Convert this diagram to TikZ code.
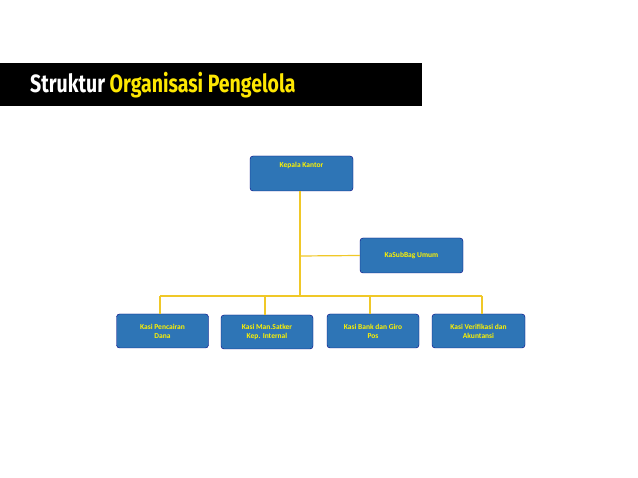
\documentclass[tikz,border=0pt]{standalone}
\usepackage{fontspec}
\setmainfont{Carlito}
\newfontfamily\titlefont{Fira Sans}
\begin{document}
\begin{tikzpicture}[x=1pt,y=-1pt,
  box/.style={draw=blue!50!black,fill={rgb,255:red,46;green,117;blue,182},rounded corners=3pt,
    minimum width=92pt,minimum height=34pt,text=yellow,font=\bfseries\fontsize{7.5}{9}\selectfont,align=center,inner sep=1pt},
  conn/.style={draw={rgb,255:red,240;green,200;blue,40},line width=1.2pt}]
\useasboundingbox (0,0) rectangle (638,478);
\fill[white] (0,0) rectangle (638,478);
\fill[black] (0,63) rectangle (422,106);
\node[anchor=west,inner sep=0] (title) at (30,85) {\scalebox{0.78}[1]{\titlefont\bfseries\fontsize{25}{28}\selectfont\color{white}Struktur \color{yellow!90!orange}Organisasi Pengelola}};
\node[box,minimum width=103pt,minimum height=35pt] (kk) at (301.5,173.5) {Kepala Kantor\\[8pt]};
\node[box,minimum width=103pt,minimum height=35pt] (ks) at (411.5,255.5) {KaSubBag Umum};
\node[box] (b1) at (162.5,331) {Kasi Pencairan\\Dana};
\node[box] (b2) at (267,332) {Kasi Man.Satker\\Kep. Internal};
\node[box] (b3) at (373,331) {Kasi Bank dan Giro\\Pos};
\node[box,minimum width=93pt] (b4) at (478.5,331) {Kasi Verifikasi dan\\Akuntansi};
\coordinate (j) at (300,296);
\coordinate (js) at (300,256);
\draw[conn] (kk.south -| j) -- (j);
\draw[conn] (js) -- (ks.west);
\draw[conn] (160,296) coordinate (l) -- (482,296) coordinate (r);
\draw[conn] (l) -- (l |- b1.north);
\draw[conn] (265,296) coordinate (m2) -- (m2 |- b2.north);
\draw[conn] (370,296) coordinate (m3) -- (m3 |- b3.north);
\draw[conn] (r) -- (r |- b4.north);
\end{tikzpicture}
\end{document}
